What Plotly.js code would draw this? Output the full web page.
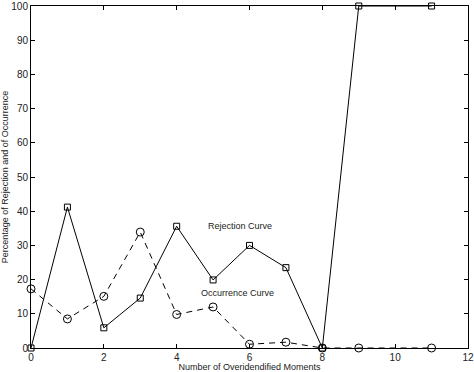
<!DOCTYPE html>
<html><head><meta charset="utf-8">
<script src="https://cdn.plot.ly/plotly-3.0.1.min.js"></script>
<style>html,body{margin:0;padding:0;background:#fff}#c{width:474px;height:372px}</style>
</head><body><div id="c"></div>
<script>
const rejX = [0, 1, 2, 3, 4, 5, 6, 7, 8, 9, 11];
const rejY = [0, 41.2, 5.9, 14.6, 35.6, 19.9, 30, 23.5, 0, 100, 100];
const occX = [0, 1, 2, 3, 4, 5, 6, 7, 8, 9, 11];
const occY = [17.3, 8.5, 15.1, 33.9, 9.8, 12.0, 1.1, 1.7, 0, 0, 0];
const labels = ["Rejection Curve", "Occurrence Curve"];
const labelX = [5.74, 5.66];
const labelY = [35.8, 16.1];
const xTitle = "Number of Overidendified Moments";
const yTitle = "Percentage of Rejection and of Occurrence";

const font = {family: "Liberation Sans, Arial, sans-serif", size: 9, color: "#222"};
const tfont = {family: "Liberation Sans, Arial, sans-serif", size: 10, color: "#222"};
const data = [
  {x: rejX, y: rejY, mode: "lines+markers", line: {color: "#000", width: 1},
   marker: {symbol: "square-open", size: 6, color: "#000", line: {width: 1}}, cliponaxis: false},
  {x: occX, y: occY, mode: "lines+markers", line: {color: "#000", width: 1, dash: "6px,5px"},
   marker: {symbol: "circle-open", size: 8, color: "#000", line: {width: 1}}, cliponaxis: false}
];
const layout = {
  width: 474, height: 372, showlegend: false,
  margin: {l: 31, r: 6, t: 6, b: 24},
  paper_bgcolor: "#fff", plot_bgcolor: "#fff", font: font,
  xaxis: {range: [0, 12], dtick: 2, tick0: 0, ticks: "inside", ticklen: 4, tickcolor: "#000",
    showline: true, linecolor: "#000", linewidth: 1, mirror: "ticks", showgrid: false, zeroline: false,
    ticklabeloverflow: "allow", tickfont: tfont, title: {text: xTitle, font: font, standoff: 2}},
  yaxis: {range: [0, 100], dtick: 10, tick0: 0, ticks: "inside", ticklen: 4, tickcolor: "#000",
    showline: true, linecolor: "#000", linewidth: 1, mirror: "ticks", showgrid: false, zeroline: false,
    ticklabeloverflow: "allow", tickfont: tfont, title: {text: yTitle, font: font, standoff: 4}},
  annotations: labels.map((t, i) => ({x: labelX[i], y: labelY[i], text: t, showarrow: false, font: font}))
};
Plotly.newPlot("c", data, layout, {staticPlot: true, displayModeBar: false});
</script></body></html>
